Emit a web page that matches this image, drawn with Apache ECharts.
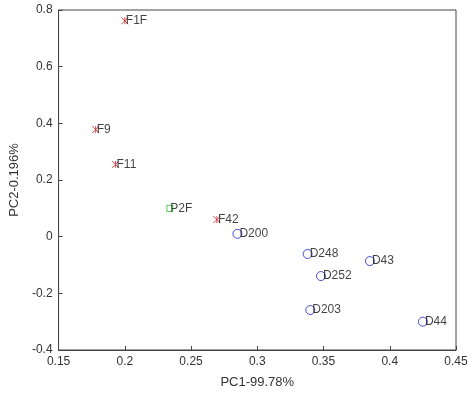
<!DOCTYPE html><html><head><meta charset="utf-8"><script src="https://cdn.jsdelivr.net/npm/echarts@6/dist/echarts.min.js"></script>
<style>body{margin:0;background:#fff}#c{width:474px;height:401px}</style></head><body><div id="c"></div><script>
const fNames=['F1F','F9','F11','F42'];
const fX=[0.200,0.178,0.193,0.2695];
const fY=[0.762,0.378,0.255,0.060];
const pNames=['P2F'];
const pX=[0.234];
const pY=[0.100];
const dNames=['D200','D248','D43','D252','D203','D44'];
const dX=[0.285,0.338,0.385,0.348,0.340,0.425];
const dY=[0.010,-0.061,-0.086,-0.139,-0.259,-0.300];
const xTicks=[0.15,0.2,0.25,0.3,0.35,0.4,0.45];
const yTicks=[-0.4,-0.2,0,0.2,0.4,0.6,0.8];
const mk=(n,x,y)=>n.map((s,i)=>({name:s,value:[x[i],y[i]]}));
const lab={show:true,position:'right',distance:-3,formatter:'{b}',color:'#111',fontSize:12,fontFamily:'Liberation Sans'};
const ax={axisLine:{onZero:false,lineStyle:{color:'#444'}},axisTick:{inside:true,length:4,lineStyle:{color:'#444'}},splitLine:{show:false},axisLabel:{color:'#333',fontSize:12,fontFamily:'Liberation Sans'},nameTextStyle:{color:'#333',fontSize:13,fontFamily:'Liberation Sans'}};
const chart=echarts.init(document.getElementById('c'));
chart.setOption({animation:false,
grid:{left:51,right:18,top:10,bottom:51,show:true,borderColor:'#444',borderWidth:1},
xAxis:Object.assign({},ax,{type:'value',min:0.15,max:0.45,interval:0.05,name:'PC1-99.78%',nameLocation:'middle',nameGap:26,axisLabel:Object.assign({},ax.axisLabel,{margin:6,formatter:v=>String(+v.toFixed(2))})}),
yAxis:Object.assign({},ax,{type:'value',min:-0.4,max:0.8,interval:0.2,name:'PC2-0.196%',nameLocation:'middle',nameGap:33,axisLabel:Object.assign({},ax.axisLabel,{margin:6,formatter:v=>String(+v.toFixed(1))})}),
series:[
{type:'scatter',data:mk(fNames,fX,fY),symbol:'path://M0,0L10,10M10,0L0,10M5,0L5,10',symbolSize:7,itemStyle:{color:'transparent',borderColor:'#d0202a',borderWidth:1},label:lab},
{type:'scatter',data:mk(pNames,pX,pY),symbol:'rect',symbolSize:6,itemStyle:{color:'transparent',borderColor:'#20c020',borderWidth:1},label:lab},
{type:'scatter',data:mk(dNames,dX,dY),symbol:'circle',symbolSize:9,itemStyle:{color:'transparent',borderColor:'#2020d0',borderWidth:1},label:lab}
]});
</script></body></html>
